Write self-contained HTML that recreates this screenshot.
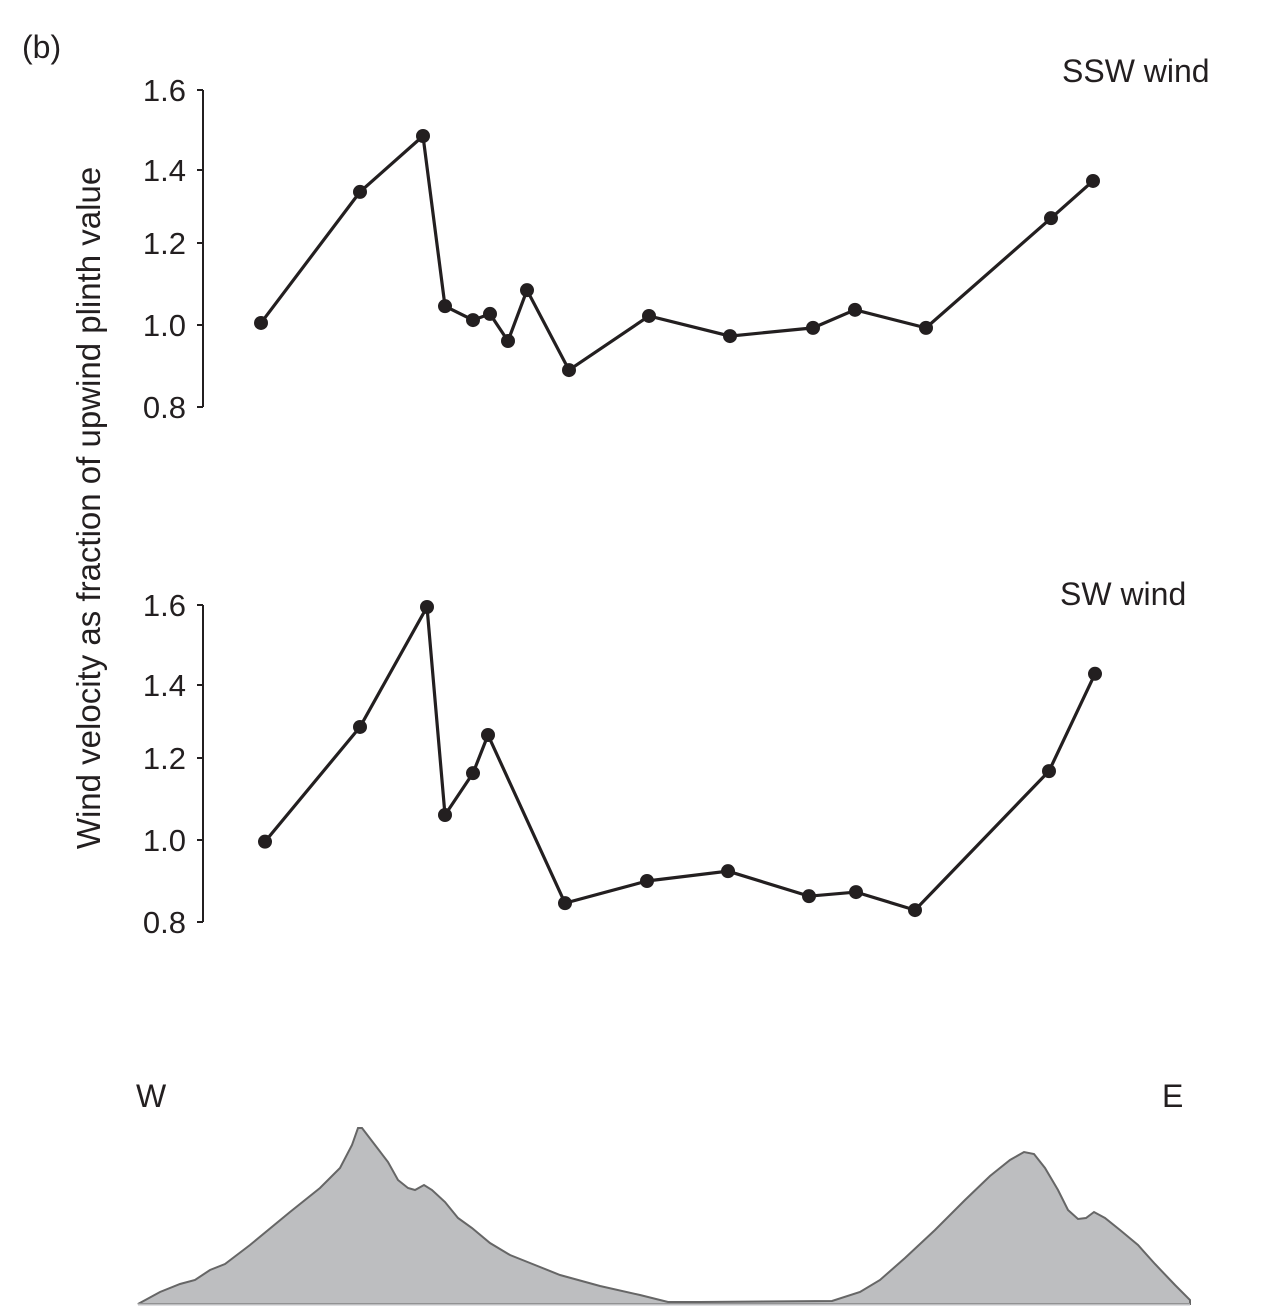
<!DOCTYPE html>
<html><head><meta charset="utf-8"><style>
html,body{margin:0;padding:0;background:#fff}
svg{display:block}
text{font-family:"Liberation Sans",Arial,sans-serif;fill:#231f20}
</style></head><body>
<svg id="chart" width="1287" height="1306" viewBox="0 0 1287 1306">
<text x="22" y="58" font-size="32">(b)</text>
<text transform="translate(100,508) rotate(-90)" text-anchor="middle" font-size="33">Wind velocity as fraction of upwind plinth value</text>
<text x="1062" y="82" font-size="32">SSW wind</text>
<text x="1060" y="605" font-size="32">SW wind</text>
<text x="136" y="1107" font-size="32">W</text>
<text x="1162" y="1107" font-size="32">E</text>
<path fill="#bdbec0" stroke="#666" stroke-width="2"
d="M138,1304 L160,1292 L180,1284 L195,1280 L210,1270 L225,1264 L250,1245 L290,1212 L320,1188 L340,1168 L352,1145 L358,1128 L362,1128 L375,1145 L388,1162 L398,1180 L408,1188 L415,1190 L424,1185 L432,1190 L445,1202 L458,1218 L472,1228 L490,1243 L510,1255 L530,1263 L560,1275 L600,1286 L640,1295 L668,1302 L700,1302 L832,1301 L860,1292 L880,1280 L905,1258 L935,1230 L965,1200 L990,1176 L1010,1160 L1024,1152 L1034,1154 L1045,1168 L1058,1190 L1068,1210 L1078,1219 L1086,1218 L1094,1212 L1105,1218 L1120,1230 L1138,1245 L1155,1264 L1175,1285 L1190,1300 L1190,1304 Z"/>
<line x1="138" y1="1304.5" x2="1190" y2="1304.5" stroke="#bdbec0" stroke-width="2"/>
<g id="top"></g><g id="bottom"></g>
</svg>
<script>
const tickValues=[0.8,1.0,1.2,1.4,1.6];
const tickLabels=["0.8","1.0","1.2","1.4","1.6"];
const tickPixelsTop=[407,325,243,170,90];
const distance=[121,220,283,305,333,350,368,387,429,509,590,673,715,786,911,953];
const distanceSW=[125,220,287,305,333,348,425,507,588,669,716,775,909,955];
const sswValues=[1.005,1.34,1.485,1.046,1.012,1.027,0.961,1.085,0.89,1.022,0.973,0.993,1.037,0.993,1.268,1.37];
const swValues=[0.996,1.285,1.595,1.061,1.163,1.263,0.846,0.9,0.924,0.863,0.873,0.829,1.168,1.428];
const NS='http://www.w3.org/2000/svg';
function xs(d){return 140+d;}
function ysFactory(off){return function(v){
  for(let i=0;i<tickValues.length-1;i++){
    if(v<=tickValues[i+1]||i===tickValues.length-2){
      const t=(v-tickValues[i])/(tickValues[i+1]-tickValues[i]);
      return off+tickPixelsTop[i]+t*(tickPixelsTop[i+1]-tickPixelsTop[i]);
    }}};}
function mk(tag,at,parent){const e=document.createElementNS(NS,tag);for(const k in at)e.setAttribute(k,at[k]);parent.appendChild(e);return e;}
function panel(gid,off,xsArr,vals,name){
  const g=document.getElementById(gid);const ys=ysFactory(off);
  const ax=mk('line',{x1:203,x2:203,y1:ys(1.6),y2:ys(0.8),stroke:'#231f20','stroke-width':2},g);
  
  
  tickValues.forEach((v,i)=>{
    const t=mk('line',{x1:197,x2:203,y1:ys(v),y2:ys(v),stroke:'#231f20','stroke-width':2},g);
    
    
    const l=mk('text',{x:186,y:ys(v)+11,'text-anchor':'end','font-size':31},g);
    l.textContent=tickLabels[i];
    
    
  });
  const pts=vals.map((v,i)=>xs(xsArr[i])+','+ys(v)).join(' ');
  const pl=mk('polyline',{points:pts,fill:'none',stroke:'#231f20','stroke-width':3.2,'stroke-linejoin':'miter'},g);
  
  
  vals.forEach((v,i)=>{
    const c=mk('circle',{cx:xs(xsArr[i]),cy:ys(v),r:7,fill:'#231f20'},g);
    
    
  });
}
panel('top',0,distance,sswValues,'ssw');
panel('bottom',515,distanceSW,swValues,'sw');
</script>
</body></html>
